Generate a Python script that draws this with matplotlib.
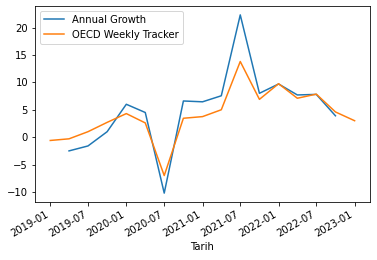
import numpy as np
import pandas as pd
import matplotlib
matplotlib.use("Agg")
import matplotlib.pyplot as plt

# Dates (quarterly)
tarih = pd.to_datetime([
    "2019-01-01", "2019-04-01", "2019-07-01", "2019-10-01",
    "2020-01-01", "2020-04-01", "2020-07-01", "2020-10-01",
    "2021-01-01", "2021-04-01", "2021-07-01", "2021-10-01",
    "2022-01-01", "2022-04-01", "2022-07-01", "2022-10-01",
    "2023-01-01",
])

# Annual growth (no value for first and last quarter)
annual_growth = [np.nan, -2.5, -1.6, 1.0, 6.0, 4.5, -10.2, 6.6,
                 6.45, 7.55, 22.3, 8.0, 9.7, 7.7, 7.8, 3.9, np.nan]

# OECD weekly tracker
oecd_tracker = [-0.6, -0.3, 1.0, 2.7, 4.3, 2.6, -7.0, 3.45,
                3.75, 5.0, 13.8, 6.9, 9.75, 7.1, 7.85, 4.6, 3.0]

fig, ax = plt.subplots(figsize=(377 / 72, 260 / 72), dpi=72)
ax.plot(tarih, annual_growth, label="Annual Growth")
ax.plot(tarih, oecd_tracker, label="OECD Weekly Tracker")
ax.set_xlabel("Tarih")
ax.legend(loc="upper left")
fig.autofmt_xdate()
fig.subplots_adjust(left=0.093, right=0.981, top=0.977, bottom=0.223)
fig.savefig("out.png", dpi=72)
